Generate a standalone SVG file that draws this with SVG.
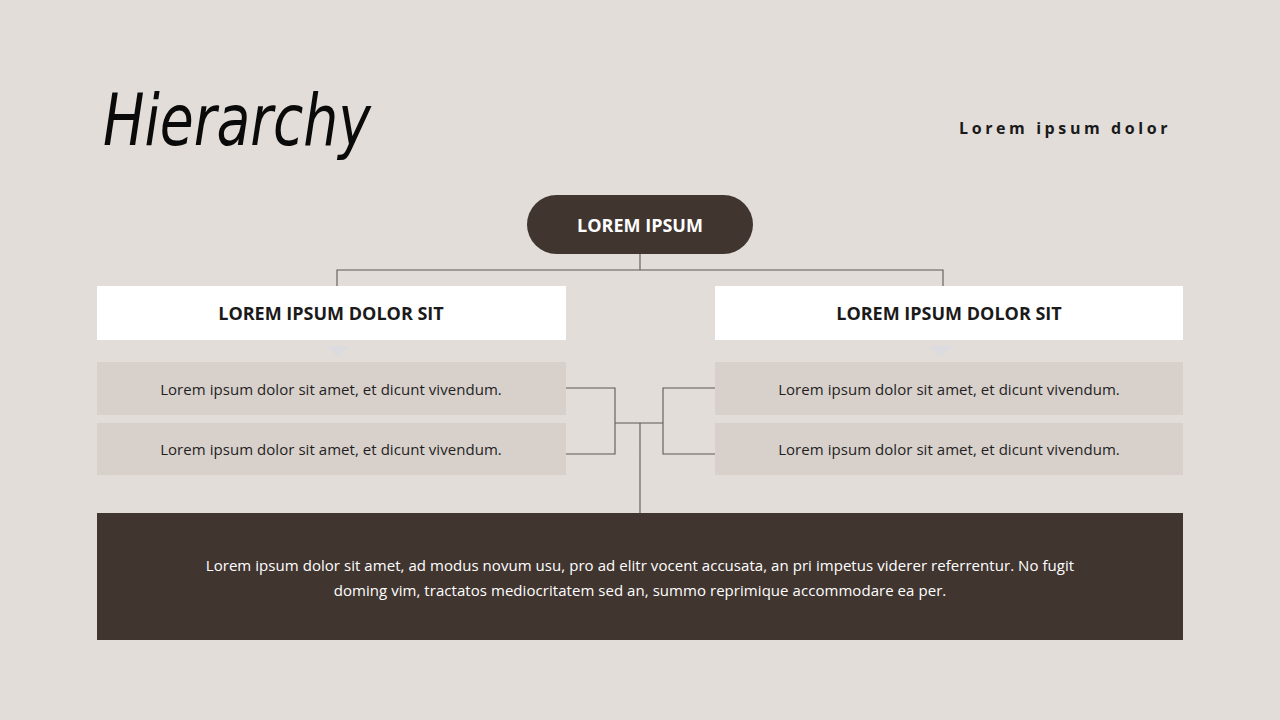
<svg xmlns="http://www.w3.org/2000/svg" width="1280" height="720" viewBox="0 0 1280 720">
<style>
.bg{fill:#E2DDD9}
.dark{fill:#413530}
.white{fill:#FFFFFF}
.item{fill:#D8D0CB}
.tri{fill:#DCDBDF}
.conn{stroke:#5E5856;stroke-width:1.1;fill:none}
.t{font-family:"Open Sans","Noto Sans",sans-serif;text-anchor:middle}
.h2{font-size:18px;font-weight:bold;fill:#1A1A1A}
.body{font-size:15px;fill:#1F1F1F;letter-spacing:0.05px}
.wt{fill:#FFFFFF}
</style>
<rect class="bg" x="0" y="0" width="1280" height="720"/>
<text x="103" y="145" font-family="DejaVu Sans" font-style="italic" font-weight="300" font-size="72" fill="#0A0A0A" textLength="268" lengthAdjust="spacingAndGlyphs">Hierarchy</text>
<text x="959" y="134" font-family="Open Sans, sans-serif" font-weight="bold" font-size="16" letter-spacing="3.6" fill="#1A1A1A">Lorem ipsum dolor</text>
<g id="connectors">
<path class="conn" d="M640 254V270M337 286V270H943V286"/>
<path class="conn" d="M566 388H615V454H566M615 423H663M715 388H663V454H715M640 423V513"/>
</g>
<g id="root">
<rect class="dark" x="527" y="195" width="226" height="59" rx="29.5"/>
<text class="t h2 wt" x="640" y="232">LOREM IPSUM</text>
</g>
<g id="left-head">
<rect class="white" x="97" y="286" width="469" height="54"/>
<text class="t h2" x="331" y="320">LOREM IPSUM DOLOR SIT</text>
<polygon class="tri" points="326,346 350,346 338,357"/>
</g>
<g id="right-head">
<rect class="white" x="715" y="286" width="468" height="54"/>
<text class="t h2" x="949" y="320">LOREM IPSUM DOLOR SIT</text>
<polygon class="tri" points="929,346 953,346 941,357"/>
</g>
<g id="left-item-1">
<rect class="item" x="97" y="362" width="469" height="53"/>
<text class="t body" x="331" y="395">Lorem ipsum dolor sit amet, et dicunt vivendum.</text>
</g>
<g id="left-item-2">
<rect class="item" x="97" y="423" width="469" height="52"/>
<text class="t body" x="331" y="455">Lorem ipsum dolor sit amet, et dicunt vivendum.</text>
</g>
<g id="right-item-1">
<rect class="item" x="715" y="362" width="468" height="53"/>
<text class="t body" x="949" y="395">Lorem ipsum dolor sit amet, et dicunt vivendum.</text>
</g>
<g id="right-item-2">
<rect class="item" x="715" y="423" width="468" height="52"/>
<text class="t body" x="949" y="455">Lorem ipsum dolor sit amet, et dicunt vivendum.</text>
</g>
<g id="footer">
<rect class="dark" x="97" y="513" width="1086" height="127"/>
<text class="t body wt" x="640" y="571">Lorem ipsum dolor sit amet, ad modus novum usu, pro ad elitr vocent accusata, an pri impetus viderer referrentur. No fugit</text>
<text class="t body wt" x="640" y="596">doming vim, tractatos mediocritatem sed an, summo reprimique accommodare ea per.</text>
</g>
</svg>
